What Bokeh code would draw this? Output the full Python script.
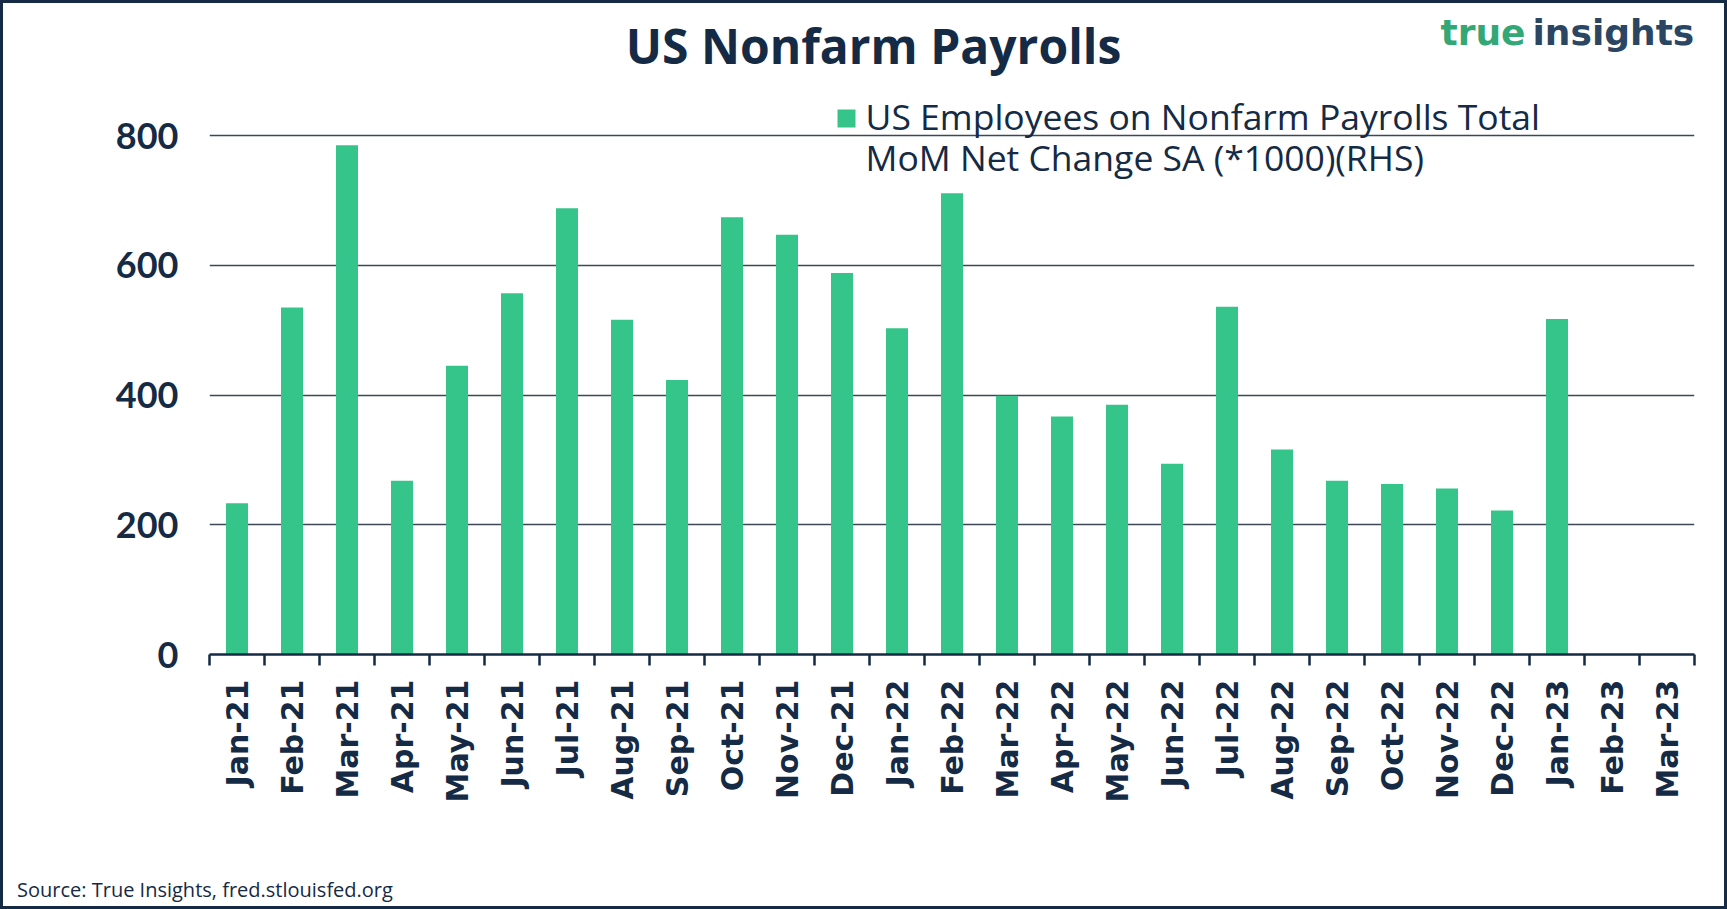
import math

from bokeh.plotting import figure
from bokeh.layouts import column
from bokeh.models import Range1d, LinearAxis, FixedTicker, Grid, Label, Div
from bokeh.embed import file_html
from bokeh.resources import INLINE

# Data
months = ["Jan-21", "Feb-21", "Mar-21", "Apr-21", "May-21", "Jun-21",
          "Jul-21", "Aug-21", "Sep-21", "Oct-21", "Nov-21", "Dec-21",
          "Jan-22", "Feb-22", "Mar-22", "Apr-22", "May-22", "Jun-22",
          "Jul-22", "Aug-22", "Sep-22", "Oct-22", "Nov-22", "Dec-22",
          "Jan-23", "Feb-23", "Mar-23"]
# MoM net change (thousands), no prints yet for Feb-23 / Mar-23
payrolls = [233, 535, 785, 268, 445, 557, 688, 516, 423, 674, 647, 588,
            503, 711, 399, 367, 385, 294, 536, 316, 268, 263, 256, 222,
            517]
y_ticks = [0, 200, 400, 600, 800]

title_text = "US Nonfarm Payrolls"
legend_lines = ["US Employees on Nonfarm Payrolls Total",
                "MoM Net Change SA (*1000)(RHS)"]
source_text = "Source: True Insights, fred.stlouisfed.org"

NAVY = "#152a44"
GREEN = "#35c58a"
GRID = "#3c4855"

# Layout (pixels); a 3px navy frame goes round everything
PAD = 3
W, H = 1727 - 2 * PAD, 870
SOURCE_H = 909 - 2 * PAD - H
LEFT, RIGHT, BOTTOM = 206, 30, 219
frame_w = W - LEFT - RIGHT
frame_h = H - BOTTOM
px_per_unit = 519 / 800
y_top = frame_h / px_per_unit


def data_x(fx):
    return (fx - LEFT) / frame_w * len(months)


def data_y(fy):
    return (frame_h - fy) / px_per_unit


# month slots: slot i covers [i, i+1]
centers = [i + 0.5 for i in range(len(months))]
edges = list(range(len(months) + 1))

p = figure(
    width=W, height=H,
    x_range=Range1d(0, len(months)),
    y_range=Range1d(0, y_top),
    x_axis_type=None, y_axis_type=None,
    output_backend="svg", toolbar_location=None,
    min_border_left=LEFT, min_border_right=RIGHT,
    min_border_top=0, min_border_bottom=BOTTOM,
)
p.outline_line_color = None
p.background_fill_color = "white"
p.border_fill_color = "white"

# Gridlines
p.add_layout(Grid(dimension=1, ticker=FixedTicker(ticks=y_ticks),
                  grid_line_color=GRID, grid_line_width=1.3))

# Bars
p.vbar(x=centers[:len(payrolls)], top=payrolls, bottom=0, width=0.4,
       color=GREEN, line_color=None)

# x axis: labels at month centres, small ticks between months
month_axis = LinearAxis(
    ticker=FixedTicker(ticks=centers, minor_ticks=edges),
    major_label_overrides=dict(zip(centers, months)),
    major_label_orientation=math.pi / 2,
    major_label_text_font="DejaVu Sans",
    major_label_text_font_style="bold",
    major_label_text_font_size="30px",
    major_label_text_color=NAVY,
    major_label_standoff=14,
    major_tick_line_color=None, major_tick_in=0, major_tick_out=0,
    minor_tick_line_color=NAVY, minor_tick_line_width=2.5,
    minor_tick_in=0, minor_tick_out=11,
    axis_line_color=NAVY, axis_line_width=2.5,
)
p.add_layout(month_axis, "below")

# y axis
y_axis = LinearAxis(
    ticker=FixedTicker(ticks=y_ticks),
    axis_line_color=None, major_tick_line_color=None,
    major_tick_in=0, major_tick_out=0,
    minor_tick_line_color=None,
    major_label_standoff=31,
    major_label_text_font="Lato", major_label_text_font_style="bold",
    major_label_text_font_size="36px", major_label_text_color=NAVY,
)
p.add_layout(y_axis, "left")

# Title
p.add_layout(Label(x=data_x(870), y=data_y(42),
                   text=title_text, text_align="center",
                   text_baseline="alphabetic", text_font="Open Sans",
                   text_font_style="bold", text_font_size="48px",
                   text_color=NAVY))

# Logo
p.add_layout(Label(x=data_x(1522), y=data_y(29),
                   text="true", text_align="right",
                   text_baseline="alphabetic", text_font="DejaVu Sans",
                   text_font_style="bold", text_font_size="36px",
                   text_color="#33a876"))
p.add_layout(Label(x=data_x(1529), y=data_y(29),
                   text="insights", text_align="left",
                   text_baseline="alphabetic", text_font="DejaVu Sans",
                   text_font_style="bold", text_font_size="36px",
                   text_color="#2a4662"))

# Legend
p.scatter(x=[data_x(843)], y=[data_y(115)],
          marker="square", size=18, color=GREEN, line_color=None)
for i, line in enumerate(legend_lines):
    p.add_layout(Label(x=data_x(862), y=data_y(112 + 41 * i),
                       text=line,
                       text_align="left", text_baseline="alphabetic",
                       text_font="Open Sans", text_font_size="35.5px",
                       text_color=NAVY))

# Source note
source = Div(
    text=('<div style="font-family: \'Open Sans\'; font-size: 20px; '
          'line-height: 1; color: %s; padding: 7px 0 0 14px;">%s</div>'
          % (NAVY, source_text)),
    width=W, height=SOURCE_H, margin=0,
    styles={"background-color": "white"},
)

page = column(p, source, spacing=0,
              styles={"border": "%dpx solid %s" % (PAD, NAVY),
                      "background-color": "white"})

open("out.html", "w").write(file_html(page, INLINE))
